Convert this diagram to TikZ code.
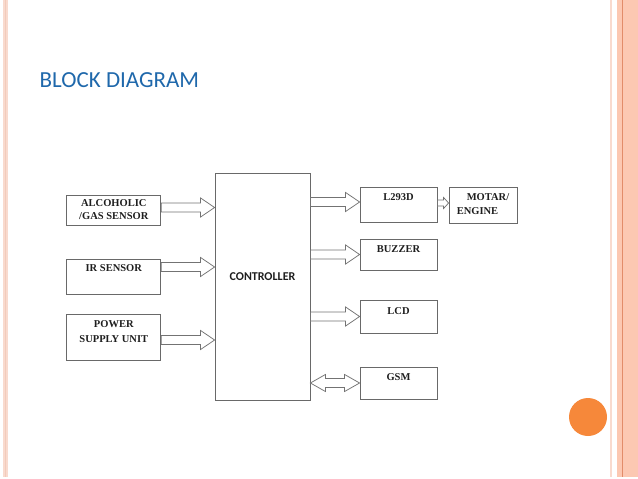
\documentclass[tikz,border=0pt]{standalone}
\usepackage{fontspec}
\setmainfont{Liberation Serif}
\newfontfamily\calibri{Carlito}
\usetikzlibrary{calc,positioning}

\definecolor{linegray}{RGB}{105,105,105}
\definecolor{arrowgray}{RGB}{115,115,115}
\definecolor{inkcol}{RGB}{30,30,30}
\definecolor{titleblue}{RGB}{31,104,171}
\definecolor{peach}{RGB}{252,200,178}
\definecolor{rust}{RGB}{226,140,105}
\definecolor{blush}{RGB}{249,218,206}
\definecolor{dotorange}{RGB}{246,136,58}

\tikzset{
  box/.style 2 args={draw=linegray, line width=0.8pt, inner sep=0pt,
    minimum width=#1, minimum height=#2},
  txt/.style={font=\bfseries\fontsize{10.5}{13}\selectfont, text=inkcol,
    inner sep=0pt, align=center},
  ctltxt/.style={font=\calibri\bfseries\fontsize{12}{14}\selectfont, text=inkcol,
    inner sep=0pt},
  % hollow block arrow: shaft half width, head half width, head length
  hollow/.style n args={3}{draw=arrowgray, line width=0.75pt, fill=white,
    to path={let \p1=(\tikztostart), \p2=(\tikztotarget) in
      (\x1,\y1+#1) -- (\x2-#3,\y1+#1) -- (\x2-#3,\y1+#2) -- (\x2,\y1)
      -- (\x2-#3,\y1-#2) -- (\x2-#3,\y1-#1) -- (\x1,\y1-#1) -- cycle}},
  twoway/.style n args={3}{draw=arrowgray, line width=0.75pt, fill=white,
    to path={let \p1=(\tikztostart), \p2=(\tikztotarget) in
      (\x1,\y1) -- (\x1+#3,\y1+#2) -- (\x1+#3,\y1+#1) -- (\x2-#3,\y1+#1)
      -- (\x2-#3,\y1+#2) -- (\x2,\y1) -- (\x2-#3,\y1-#2) -- (\x2-#3,\y1-#1)
      -- (\x1+#3,\y1-#1) -- (\x1+#3,\y1-#2) -- cycle}},
  fat/.style={hollow={4.5pt}{9.5pt}{14pt}},
  slim/.style={hollow={3pt}{5.5pt}{5pt}},
}

\begin{document}
\begin{tikzpicture}[x=1pt, y=-1pt]
\useasboundingbox (0,0) rectangle (638,479);
% slide borders
\fill[blush] (3,0) rectangle (7.5,477);
\draw[rust!45, line width=1pt] (5.2,0) -- (5.2,477);
\draw[blush, line width=2pt] (611,0) -- (611,477);
\fill[peach] (617,0) rectangle (638,477);
\draw[rust, line width=1pt] (622.5,0) -- (622.5,477);
\fill[dotorange] (588,417) circle (19pt);

\node[anchor=west, inner sep=0pt, text=titleblue,
  font=\calibri\fontsize{23}{27}\selectfont] (ttl) at (39.5,80) {BLOCK DIAGRAM};

% inputs
\node[box={94pt}{30pt}, txt] (alc) at (113.8,210) {ALCOHOLIC\\/GAS SENSOR};
\node[box={94pt}{35pt}, label={[txt, anchor=north, yshift=-5.4pt]north:IR SENSOR}]
  (ir) at (113.8,276.5) {};
\node[box={94pt}{46pt}, label={[txt, anchor=north, yshift=-6.4pt]north:POWER\\[2pt]SUPPLY UNIT}]
  (pwr) at (113.8,337) {};

\node[box={95pt}{227pt}, label={[ctltxt, anchor=center, yshift=10pt]center:CONTROLLER}]
  (ctl) at (262.5,286.5) {};

% outputs
\node[box={77pt}{35pt}, label={[txt, anchor=north, yshift=-6.4pt]north:L293D}]
  (drv) at (398.5,204.5) {};
\node[box={68pt}{36pt}, label={[txt, align=left, anchor=north, yshift=-6.4pt]north:\hspace*{10pt}MOTAR/\\[1pt]ENGINE}]
  (mot) at (483,205) {};
\node[box={77pt}{31pt}, label={[txt, anchor=north, yshift=-6.4pt]north:BUZZER}]
  (buz) at (398.5,254.5) {};
\node[box={77pt}{33pt}, label={[txt, anchor=north, yshift=-7.4pt]north:LCD}]
  (lcd) at (398.5,316.5) {};
\node[box={77pt}{32pt}, label={[txt, anchor=north, yshift=-6.4pt]north:GSM}]
  (gsm) at (398.5,383) {};

% arrow levels
\coordinate (a1) at ([yshift=2.5pt]alc.east);
\coordinate (a2) at ([yshift=9.5pt]ir.east);
\coordinate (a3) at ([yshift=-3pt]pwr.east);
\coordinate (b1) at ([yshift=2.5pt]drv.west);
\coordinate (b2) at (buz.west);
\coordinate (b3) at (lcd.west);
\coordinate (b4) at (gsm.west);
\coordinate (c1) at ([yshift=1.5pt]drv.east);

\draw[fat] (a1) to (a1 -| ctl.west);
\draw[fat] (a2) to (a2 -| ctl.west);
\draw[fat] (a3) to (a3 -| ctl.west);
\draw[fat] (b1 -| ctl.east) to (b1);
\draw[fat] (b2 -| ctl.east) to (b2);
\draw[fat] (b3 -| ctl.east) to (b3);
\draw[twoway={4.5pt}{8.5pt}{15pt}] (b4 -| ctl.east) to (b4);
\draw[slim] (c1) to (c1 -| mot.west);
\end{tikzpicture}
\end{document}
